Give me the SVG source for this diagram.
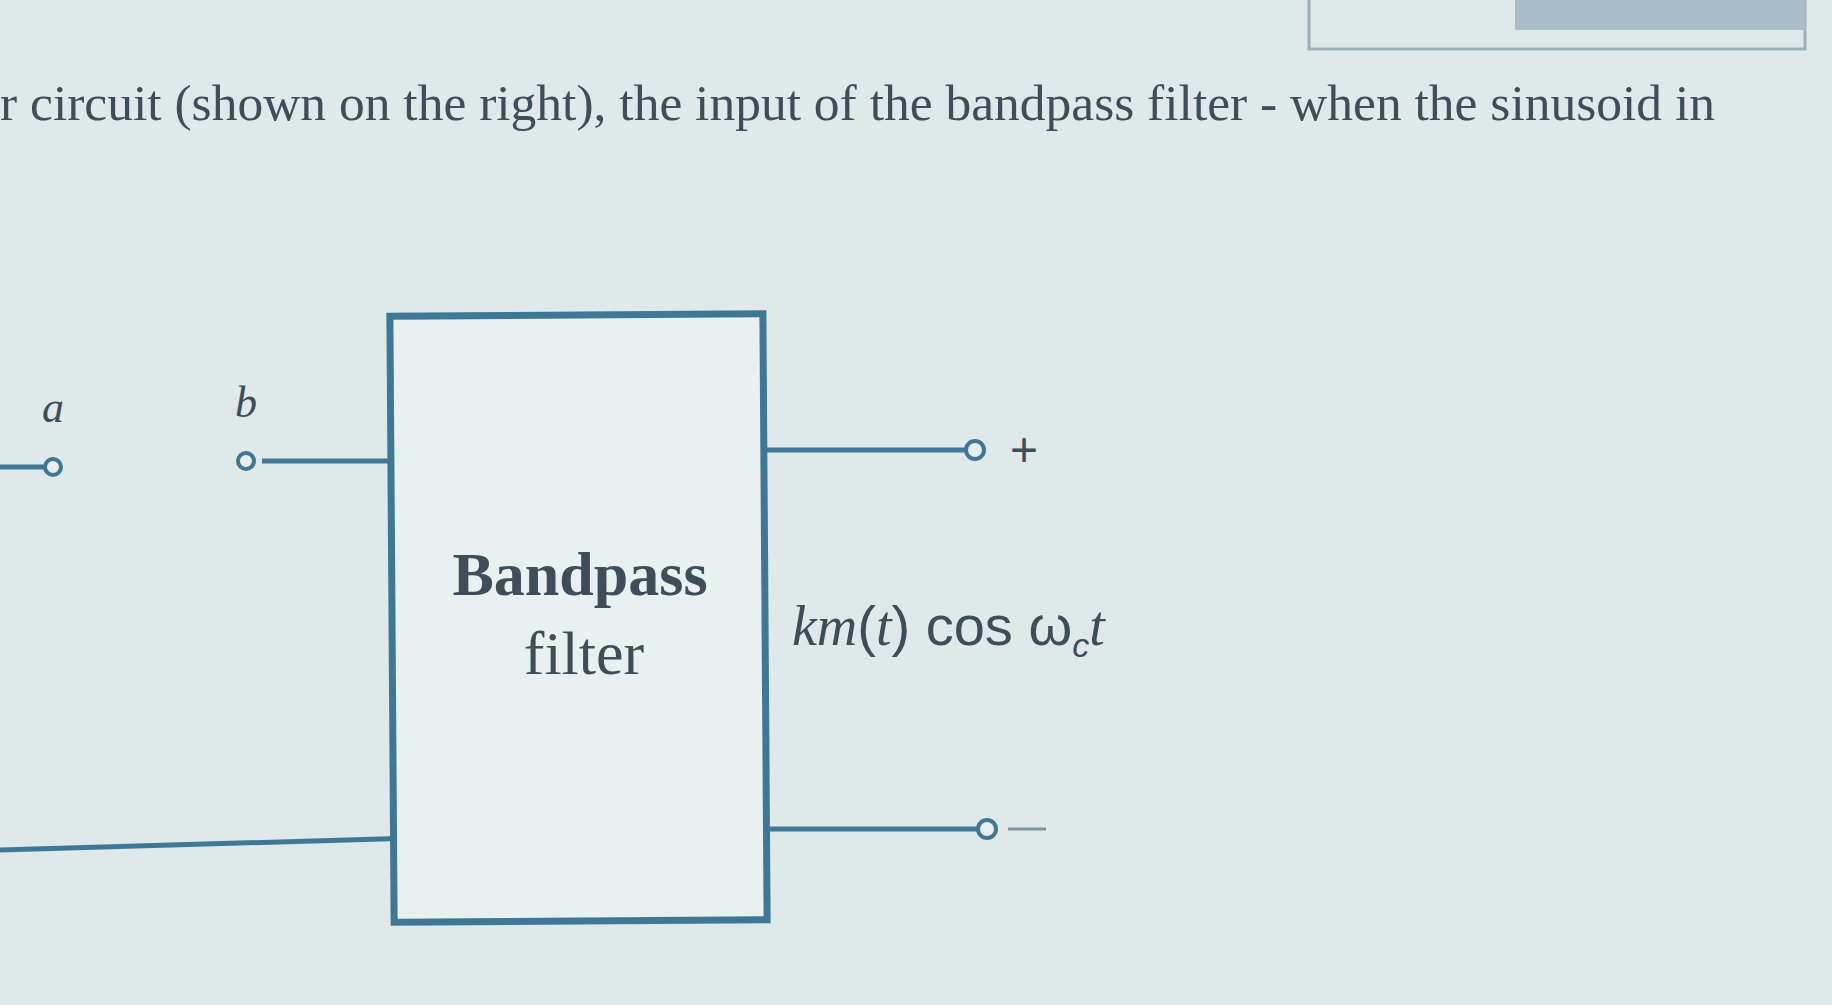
<svg xmlns="http://www.w3.org/2000/svg" width="1832" height="1005" viewBox="0 0 1832 1005">
<style>
.w{stroke:#3f7896;stroke-width:5;fill:none}
.t{fill:#3e4e58;font-family:"Liberation Serif",serif}
.term{fill:#e6eeee;stroke:#3f7896;stroke-width:4}
</style>
<rect width="1832" height="1005" fill="#dfe9ea"/>
<rect x="1309" y="-4" width="496" height="53" fill="none" stroke="#9fb0b6" stroke-width="3"/>
<rect x="1515" y="0" width="290" height="30" fill="#a9bcc9"/>
<text class="t" x="0" y="120" font-size="51" textLength="1715" lengthAdjust="spacingAndGlyphs">r circuit (shown on the right), the input of the bandpass filter - when the sinusoid in</text>
<g id="connectors">
<line class="w" x1="0" y1="467" x2="44" y2="467"/>
<line class="w" x1="262" y1="461" x2="392" y2="461"/>
<line class="w" x1="748" y1="450" x2="966" y2="450"/>
<line class="w" x1="0" y1="850" x2="415" y2="838"/>
<line class="w" x1="765" y1="829" x2="978" y2="829"/>
</g>
<g id="filter">
<rect x="392" y="315" width="373" height="606" fill="#e8f0f0" stroke="#3f7896" stroke-width="7" transform="rotate(-0.4 578 618)"/>
<text class="t" x="580" y="595" font-size="62" text-anchor="middle" font-weight="bold" fill="#4a555c">Bandpass</text>
<text class="t" x="584" y="674" font-size="62" text-anchor="middle" fill="#4a555c">filter</text>
</g>
<g id="a"><circle class="term" cx="53" cy="467" r="8"/><text class="t" x="53" y="422" font-size="44" font-style="italic" text-anchor="middle" fill="#6f8a9a">a</text></g>
<g id="b"><circle class="term" cx="246" cy="461" r="8"/><text class="t" x="246" y="417" font-size="44" font-style="italic" text-anchor="middle" fill="#4c5a62">b</text></g>
<g id="plus"><circle class="term" cx="975" cy="450" r="9"/><text x="1024" y="466" font-size="48" font-family="Liberation Sans,sans-serif" fill="#3e4e58" text-anchor="middle">+</text></g>
<g id="minus"><circle class="term" cx="987" cy="829" r="9"/><line x1="1008" y1="829" x2="1046" y2="829" stroke="#7d93a0" stroke-width="3"/></g>
<text x="792" y="645" font-size="56" fill="#3e4e58" font-family="Liberation Sans,sans-serif"><tspan font-family="Liberation Serif,serif" font-style="italic">km</tspan>(<tspan font-family="Liberation Serif,serif" font-style="italic">t</tspan>) cos ω<tspan font-size="34" dy="12" font-style="italic">c</tspan><tspan dy="-12" font-family="Liberation Serif,serif" font-style="italic">t</tspan></text>
</svg>
